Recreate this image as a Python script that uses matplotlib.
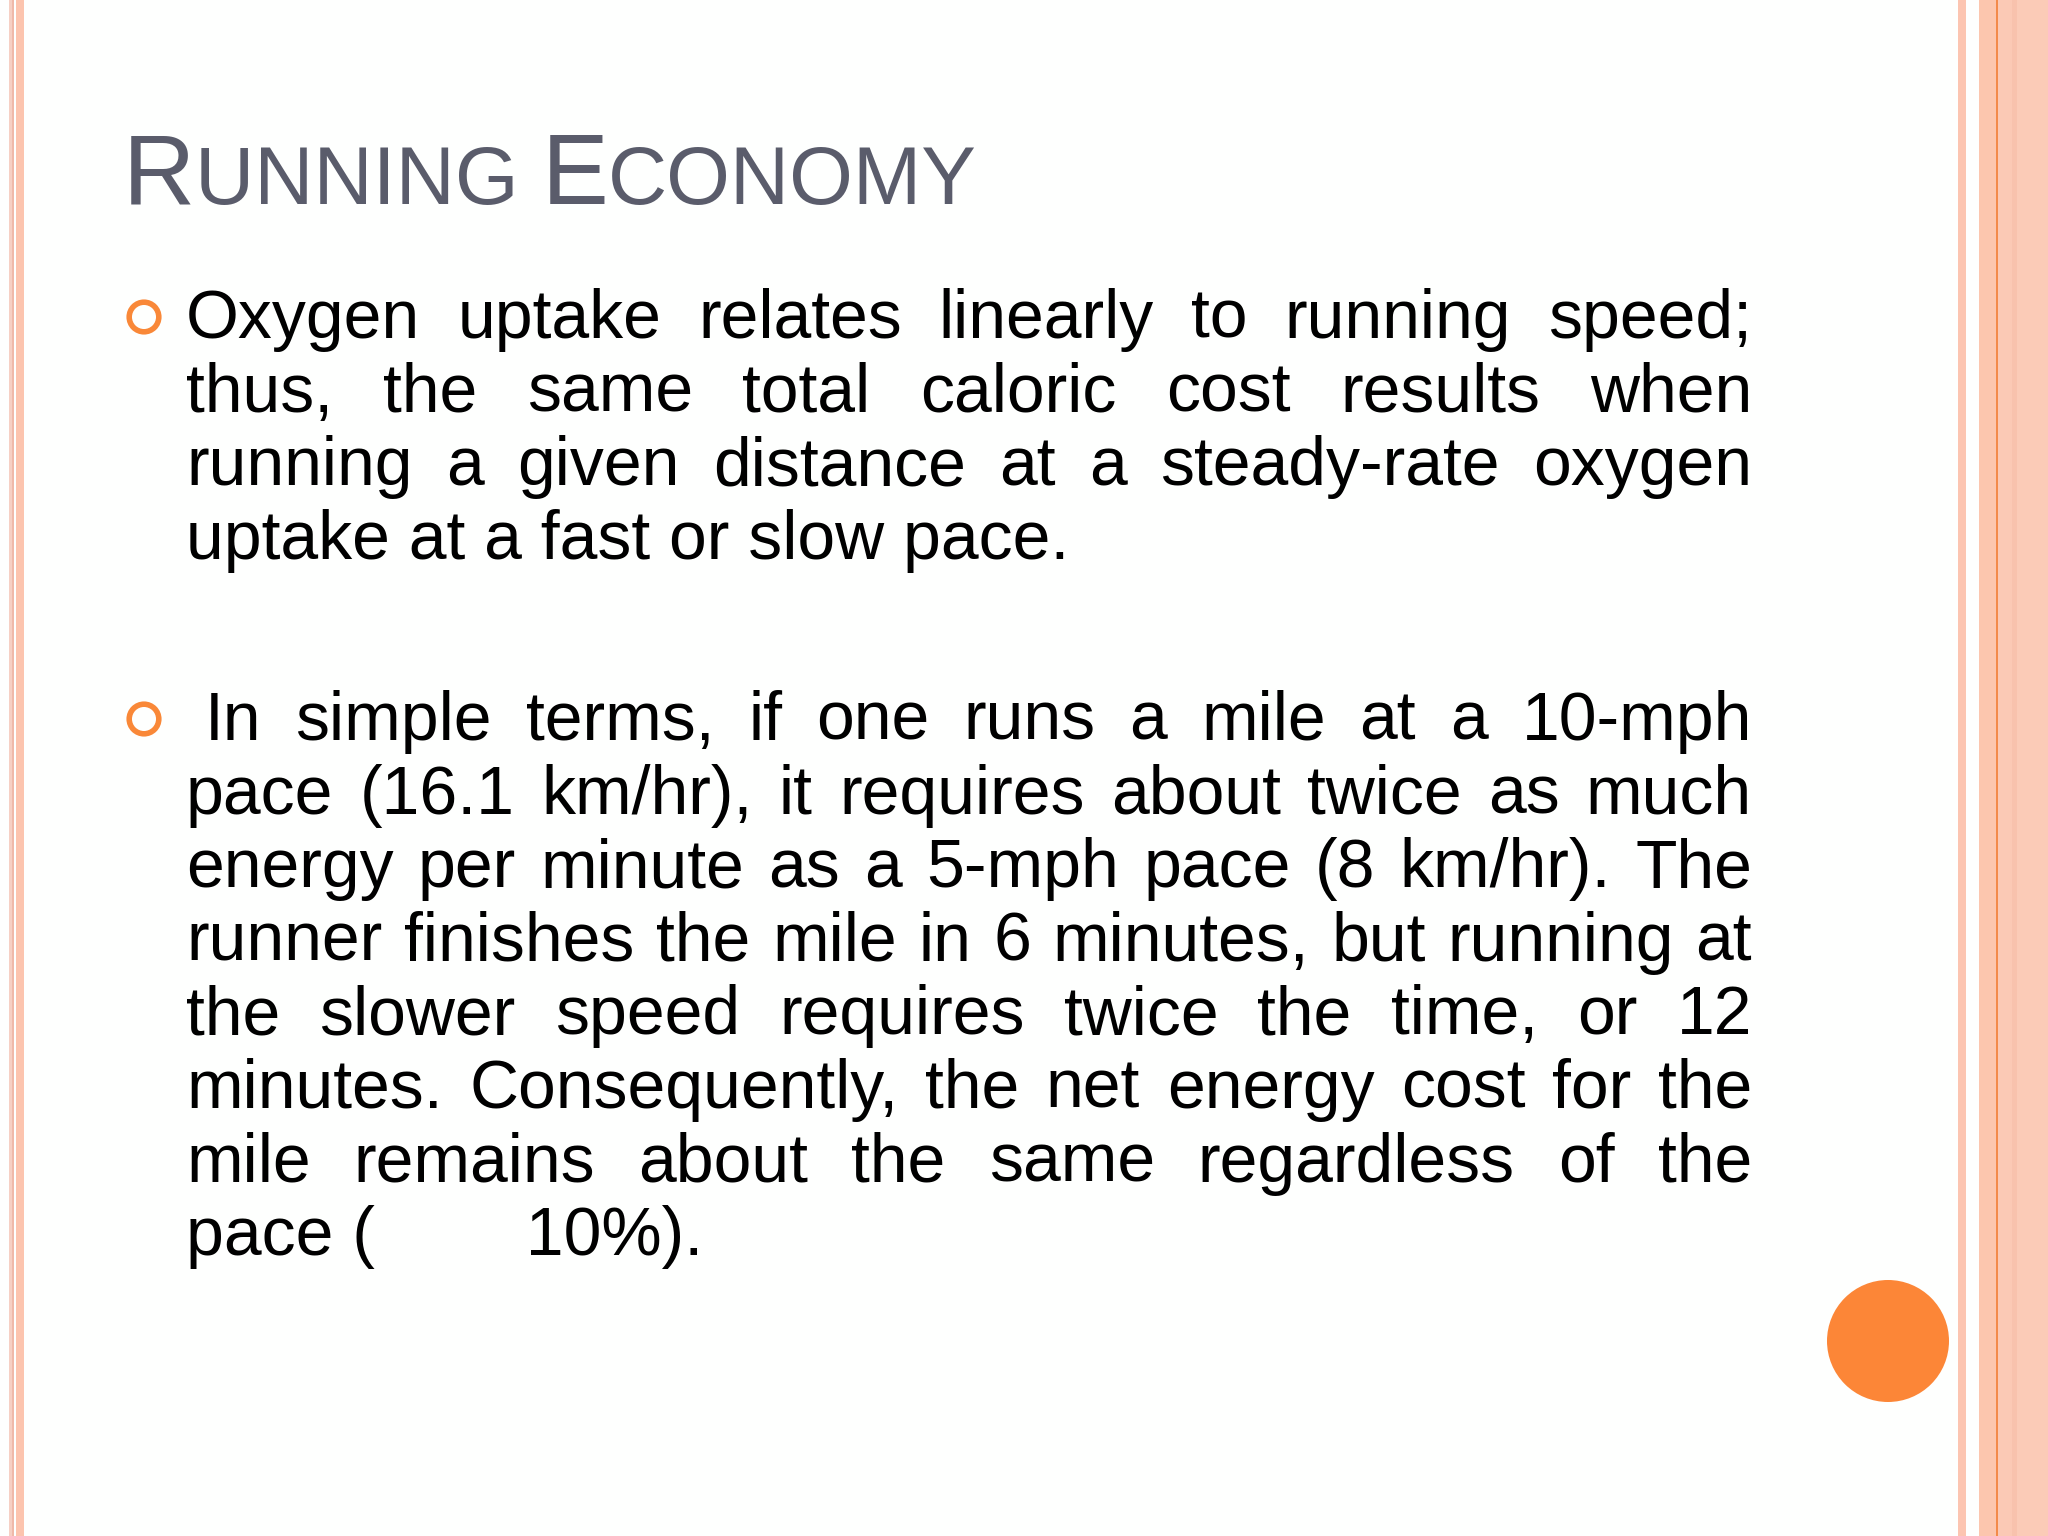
import matplotlib

matplotlib.use("Agg")

import matplotlib.pyplot as plt
from matplotlib.patches import Circle, Rectangle

WIDTH, HEIGHT = 2048, 1536
FONT = "Liberation Sans"

# slide content
TITLE_PARTS = [("R", "big"), ("UNNING ", "small"), ("E", "big"), ("CONOMY", "small")]

BULLET_ONE = [
    "Oxygen uptake relates linearly to running speed;",
    "thus, the same total caloric cost results when",
    "running a given distance at a steady-rate oxygen",
    "uptake at a fast or slow pace.",
]

BULLET_TWO = [
    " In simple terms, if one runs a mile at a 10-mph",
    "pace (16.1 km/hr), it requires about twice as much",
    "energy per minute as a 5-mph pace (8 km/hr). The",
    "runner finishes the mile in 6 minutes, but running at",
    "the slower speed requires twice the time, or 12",
    "minutes. Consequently, the net energy cost for the",
    "mile remains about the same regardless of the",
    "pace (        10%).",
]

# decorative border stripes: (x0, x1, colour)
LEFT_STRIPES = [(9, 12, "#f6d0c4"), (12, 14, "#efb9a9"), (16, 24, "#fcc4ae")]
RIGHT_STRIPES = [
    (1958, 1966, "#fcc5b1"),
    (1979, 1996, "#fcc6ae"),
    (1996, 1998, "#f38a4a"),
    (1998, 2012, "#fbc9b5"),
    (2012, 2017, "#f8c2ad"),
    (2017, 2048, "#fbcbb7"),
]

TITLE_COLOR = "#5a5c6b"
ORANGE = "#f98838"

TEXT_LEFT, TEXT_RIGHT = 186, 1752
LINE_STEP = 73.6
BODY_SIZE = 48.9


def draw_justified(axis, renderer, lines, first_baseline):
    for i, line in enumerate(lines):
        y = first_baseline + i * LINE_STEP
        if i == len(lines) - 1:
            axis.text(TEXT_LEFT, y, line, fontsize=BODY_SIZE, family=FONT,
                      color="black", va="baseline", ha="left")
            continue
        indent = 0.0
        if line.startswith(" "):
            probe = axis.text(0, y, "a a", fontsize=BODY_SIZE, family=FONT)
            probe2 = axis.text(0, y, "aa", fontsize=BODY_SIZE, family=FONT)
            indent = probe.get_window_extent(renderer).width - probe2.get_window_extent(renderer).width
            probe.remove()
            probe2.remove()
        words = line.split()
        artists = [
            axis.text(0, y, w, fontsize=BODY_SIZE, family=FONT, color="black",
                      va="baseline", ha="left")
            for w in words
        ]
        widths = [a.get_window_extent(renderer).width for a in artists]
        gap = (TEXT_RIGHT - TEXT_LEFT - indent - sum(widths)) / (len(words) - 1)
        x = TEXT_LEFT + indent
        for artist, w in zip(artists, widths):
            artist.set_x(x)
            x += w + gap


def main() -> None:
    figure = plt.figure(figsize=(WIDTH / 100, HEIGHT / 100), dpi=100)
    figure.patch.set_facecolor("#fefffe")
    axis = figure.add_axes((0, 0, 1, 1))
    axis.set_xlim(0, WIDTH)
    axis.set_ylim(HEIGHT, 0)
    axis.axis("off")

    for x0, x1, color in LEFT_STRIPES + RIGHT_STRIPES:
        axis.add_patch(Rectangle((x0, 0), x1 - x0, HEIGHT, color=color, lw=0))

    renderer = figure.canvas.get_renderer()

    # title in small caps
    x = 123
    for text, kind in TITLE_PARTS:
        size = 72 if kind == "big" else 59
        t = axis.text(x, 204, text, fontsize=size, family=FONT, color=TITLE_COLOR,
                      va="baseline", ha="left")
        x += t.get_window_extent(renderer).width

    # bullets
    for cy in (317, 719):
        axis.add_patch(Circle((144, cy), 14.8, facecolor="none", edgecolor=ORANGE, lw=4.0))

    draw_justified(axis, renderer, BULLET_ONE, 338)
    draw_justified(axis, renderer, BULLET_TWO, 740)

    axis.add_patch(Circle((1888, 1341), 61, color="#fc8637", lw=0))

    figure.savefig("out.png", dpi=100, facecolor=figure.get_facecolor())
    plt.close(figure)


if __name__ == "__main__":
    main()
